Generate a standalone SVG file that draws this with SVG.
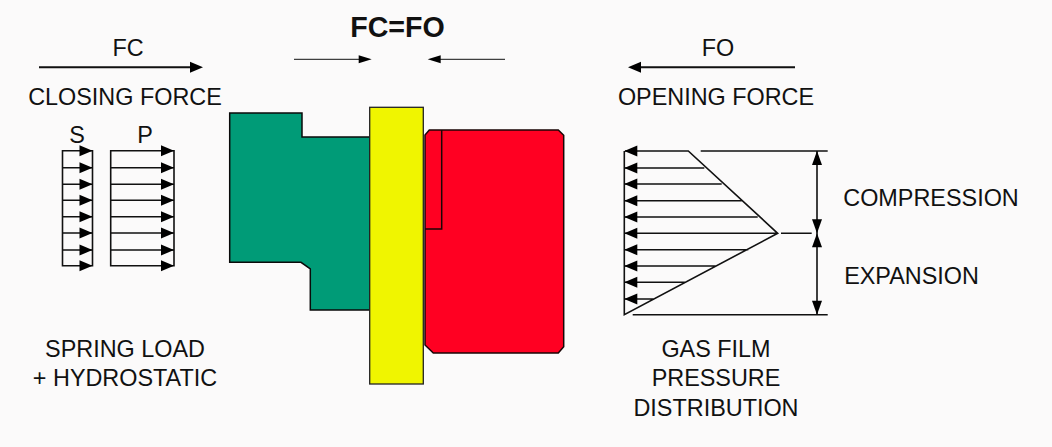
<svg xmlns="http://www.w3.org/2000/svg" width="1052" height="447" viewBox="0 0 1052 447">
<style>
text{font-family:"Liberation Sans",Arial,sans-serif;fill:#111;font-size:23.4px;text-anchor:middle}
.l{stroke:#111;stroke-width:2;fill:none}
.t{stroke:#111;stroke-width:1;fill:none}
.h{fill:#000;stroke:none}
.s{stroke:#111;stroke-width:1.6}
</style>
<defs>
<path id="hr" class="h" d="M0 0l-13-5.5v11z"/>
<path id="hl" class="h" d="M0 0l13-5.5v11z"/>
<path id="hu" class="h" d="M0 0l-5 14h10z"/>
<path id="hd" class="h" d="M0 0l-5-14h10z"/>
<path id="hs" class="h" d="M0 0l-13-4v8z"/>
<path id="hsl" class="h" d="M0 0l13-4v8z"/>
</defs>
<rect width="1052" height="447" fill="#fbfafa"/>
<g id="labels">
<text x="128" y="55.500">FC</text>
<text x="125" y="105">CLOSING FORCE</text>
<text x="77" y="143">S</text>
<text x="145" y="143">P</text>
<text x="125" y="357">SPRING LOAD</text>
<text x="125" y="386">+ HYDROSTATIC</text>
<text x="397.500" y="37" style="font-size:28.6px;font-weight:bold">FC=FO</text>
<text x="718" y="55.500">FO</text>
<text x="716" y="105">OPENING FORCE</text>
<text x="931" y="206">COMPRESSION</text>
<text x="911.500" y="284">EXPANSION</text>
<text x="716" y="357">GAS FILM</text>
<text x="716" y="386">PRESSURE</text>
<text x="716" y="416">DISTRIBUTION</text>
</g>
<g id="seal">
<path id="rotor" fill="#009b77" stroke="#0a0a0a" stroke-width="1.5" d="M229.7 113H302V137H370V310H310.3V269L301 262.3H229.7Z"/>
<path id="stator" fill="#ff0022" stroke="#1a0505" stroke-width="1.5" d="M429.3 130H558.3L563.7 135.3V346.7L558.3 353H433.3L425 345V135Z"/>
<path id="step" fill="none" stroke="#1a0505" stroke-width="1.5" d="M441.7 130V229H425"/>
<rect id="ring" x="369.7" y="107.3" width="53.6" height="276.7" fill="#f0f500" stroke="#222" stroke-width="1.3"/>
</g>
<g id="connectors">
<path class="l" d="M39 67.300H192M640 67.300H795"/>
<use href="#hr" x="203" y="67.300"/><use href="#hl" x="628" y="67.300"/>
<path class="t" d="M294 59.300H360M505 59.300H440"/>
<use href="#hs" x="371.700" y="59.300"/><use href="#hsl" x="427.700" y="59.300"/>
<g id="spring">
<path class="s" fill="none" d="M62.500 150.700H92.500V265.700H62.500ZM62.500 167.700H92M62.500 184.300H92M62.500 200.300H92M62.500 216.700H92M62.500 233H92M62.500 250H92"/>
<use href="#hr" x="92.500" y="150.700"/><use href="#hr" x="92.500" y="167.700"/><use href="#hr" x="92.500" y="184.300"/><use href="#hr" x="92.500" y="200.300"/><use href="#hr" x="92.500" y="216.700"/><use href="#hr" x="92.500" y="233"/><use href="#hr" x="92.500" y="250"/><use href="#hr" x="92.500" y="265.700"/>
</g>
<g id="hydrostatic">
<path class="s" fill="none" d="M110.700 150.700H174V265.700H110.700ZM110.700 167.700H174M110.700 184.300H174M110.700 200.300H174M110.700 216.700H174M110.700 233H174M110.700 250H174"/>
<use href="#hr" x="174" y="150.700"/><use href="#hr" x="174" y="167.700"/><use href="#hr" x="174" y="184.300"/><use href="#hr" x="174" y="200.300"/><use href="#hr" x="174" y="216.700"/><use href="#hr" x="174" y="233"/><use href="#hr" x="174" y="250"/><use href="#hr" x="174" y="265.700"/>
</g>
<g id="gasfilm">
<path class="s" fill="none" d="M624.300 151V314.700L777.700 233.300L688.300 151H625M624.300 168H704.300M624.300 184H721.700M624.300 200.700H741.700M624.300 217H757.700M624.300 233.300H777.700M624.300 249.700H748.300M624.300 266H716M624.300 282.300H686M624.300 299H654.300"/>
<use href="#hl" x="624.300" y="151"/><use href="#hl" x="624.300" y="168"/><use href="#hl" x="624.300" y="184"/><use href="#hl" x="624.300" y="200.700"/><use href="#hl" x="624.300" y="217"/><use href="#hl" x="624.300" y="233.300"/><use href="#hl" x="624.300" y="249.700"/><use href="#hl" x="624.300" y="266"/><use href="#hl" x="624.300" y="282.300"/><use href="#hl" x="624.300" y="299"/>
<path class="s" fill="none" d="M700.700 151H827.700M632.700 314.700H827.700M781 233.300H811.700M817 151V315"/>
<use href="#hu" x="817" y="151"/><use href="#hd" x="817" y="233.300"/><use href="#hu" x="817" y="233.300"/><use href="#hd" x="817" y="314.700"/>
</g>
</g>
</svg>
